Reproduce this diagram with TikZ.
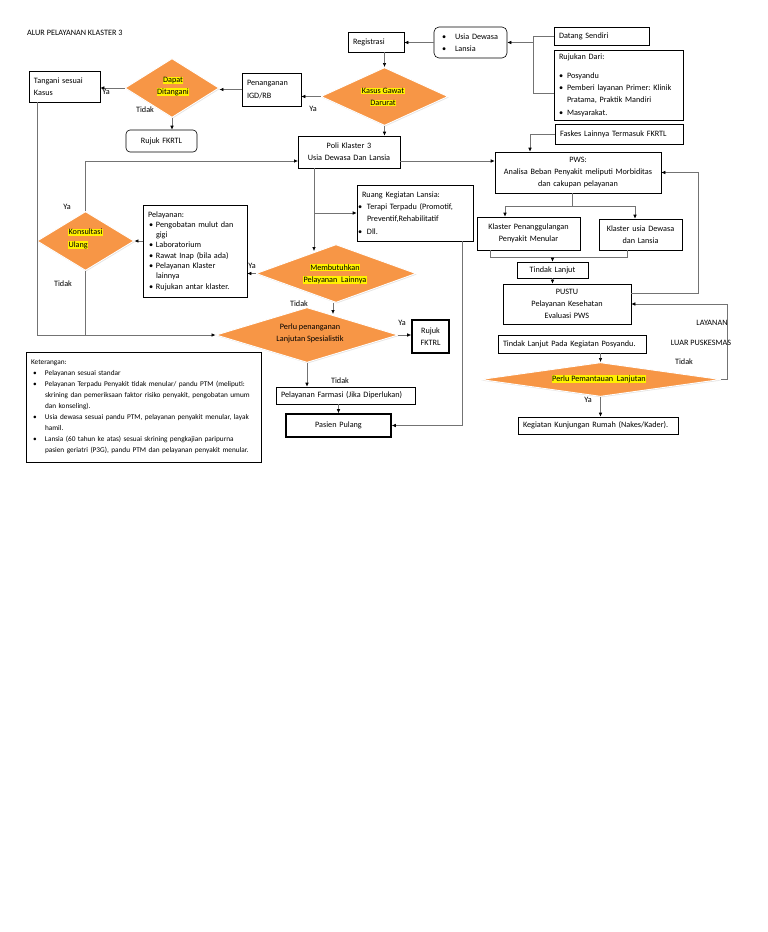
\documentclass[tikz,border=0pt]{standalone}
\usepackage{fontspec}
\setmainfont{Carlito}
\usetikzlibrary{shapes.geometric,arrows.meta,calc,shadows}
\definecolor{dorange}{HTML}{F79646}
\frenchspacing
\newcommand\fs{\fontsize{8.2}{12.3}\selectfont\frenchspacing}
\newcommand\fk{\fontsize{7.3}{11}\selectfont\frenchspacing}
\newcommand\hlt[1]{{\setlength{\fboxsep}{0.5pt}\colorbox{yellow}{#1}}}
\newcommand\bu[1]{\makebox[#1][l]{\textbullet}}
\newcommand\kb{\hspace*{2pt}\makebox[12pt][l]{\textbullet}}
\newcommand\ki{\hspace*{14pt}}
\begin{document}
\begin{tikzpicture}[x=1pt,y=-1pt,
  bx/.style={draw, line width=0.6pt, inner xsep=5pt, inner ysep=1pt, font=\fs, align=left},
  bxc/.style={bx, align=center},
  dm/.style={diamond, fill=dorange, draw=white, line width=0.9pt, inner sep=0pt,
    drop shadow={opacity=0.22, shadow xshift=0.8pt, shadow yshift=-1pt}},
  cn/.style={draw=black!55, line width=0.6pt},
  ar/.style={cn, -{Latex[length=4pt,width=3.5pt,color=black]}},
  lb/.style={font=\fs, inner sep=0pt}]
\fill[white] (0,0) rectangle (768,932);
\useasboundingbox (0,0) rectangle (768,932);

\node[lb, anchor=west] (title) at (27,33) {ALUR PELAYANAN KLASTER 3};

% top / right column
\node[bx, minimum width=56pt, minimum height=20pt, text width=46pt] (reg) at (376,42) {Registrasi};
\node[bx, rounded corners=5pt, minimum width=73pt, minimum height=31pt, text width=63pt] (usia) at (470.5,42.5) {\hspace*{3pt}\bu{13pt}Usia Dewasa\\\hspace*{3pt}\bu{13pt}Lansia};
\node[bx, minimum width=95pt, minimum height=18pt, text width=85pt] (datang) at (601.5,36) {Datang Sendiri};
\node[bx, minimum width=129pt, minimum height=70pt, text width=119pt] (rujukan) at (618.5,85) {Rujukan Dari:\\[7pt]\bu{8pt}Posyandu\\\bu{8pt}Pemberi layanan Primer: Klinik\\\hspace*{8pt}Pratama, Praktik Mandiri\\\bu{8pt}Masyarakat.};
\node[bx, minimum width=128pt, minimum height=20pt, text width=118pt] (faskes) at (619,134) {Faskes Lainnya Termasuk FKRTL};
\node[bxc, minimum width=166pt, minimum height=41pt, text width=156pt] (pws) at (578,172.5) {PWS:\\Analisa Beban Penyakit meliputi Morbiditas\\dan cakupan pelayanan};
\node[bxc, minimum width=103pt, minimum height=33pt, text width=93pt] (kpm) at (528.5,233.5) {Klaster Penanggulangan\\Penyakit Menular};
\node[bxc, minimum width=83pt, minimum height=31pt, text width=73pt] (kud) at (640.5,234.5) {Klaster usia Dewasa\\dan Lansia};
\node[bxc, minimum width=71pt, minimum height=16pt, text width=61pt] (tl) at (552.5,270) {Tindak Lanjut};
\node[bxc, minimum width=128pt, minimum height=40pt, text width=118pt] (pustu) at (567,304) {PUSTU\\Pelayanan Kesehatan\\Evaluasi PWS};
\node[bx, minimum width=148pt, minimum height=18pt, text width=138pt] (tlp) at (572,344) {Tindak Lanjut Pada Kegiatan Posyandu.};
\node[dm, minimum width=240pt, minimum height=34pt] (ppl) at (600.5,379.5) {};
\node[lb] (pplt) at (599,379) {\hlt{Perlu Pemantauan\ \ Lanjutan}};
\node[bx, minimum width=160pt, minimum height=17pt, text width=150pt] (kkr) at (598,425.5) {Kegiatan Kunjungan Rumah (Nakes/Kader).};

% left / middle
\node[bx, minimum width=71pt, minimum height=31pt, text width=61pt] (tangani) at (64.5,86.5) {Tangani sesuai\\Kasus};
\node[dm, minimum width=94pt, minimum height=59pt] (dapat) at (172,88) {};
\node[lb, align=center] (dapatt) at (173,86.5) {\hlt{Dapat}\\\hlt{Ditangani}};
\node[bxc, rounded corners=4pt, minimum width=71pt, minimum height=22pt, text width=61pt] (rfkrtl) at (161.5,141) {Rujuk FKRTL};
\node[bx, minimum width=59pt, minimum height=33pt, text width=49pt] (igd) at (271.5,89.5) {Penanganan\\IGD/RB};
\node[dm, minimum width=127pt, minimum height=58pt] (kgd) at (384.5,96.5) {};
\node[lb, align=center] (kgdt) at (383,97) {\hlt{Kasus Gawat}\\\hlt{Darurat}};
\node[bxc, minimum width=102pt, minimum height=32pt, text width=92pt] (poli) at (349,152) {Poli Klaster 3\\Usia Dewasa Dan Lansia};
\node[bx, minimum width=116pt, minimum height=56pt, text width=106pt] (ruang) at (415,213) {Ruang Kegiatan Lansia:\\\hspace*{-4pt}\bu{9pt}Terapi Terpadu (Promotif,\\\hspace*{5pt}Preventif,Rehabilitatif\\\hspace*{-4pt}\bu{9pt}Dll.};
\node[bx, minimum width=104pt, minimum height=92pt, text width=94pt, font=\fontsize{8.2}{10.3}\selectfont\frenchspacing] (pel) at (195,251) {Pelayanan:\\\hspace*{1pt}\bu{7pt}Pengobatan mulut dan\\\hspace*{8pt}gigi\\\hspace*{1pt}\bu{7pt}Laboratorium\\\hspace*{1pt}\bu{7pt}Rawat Inap (bila ada)\\\hspace*{1pt}\bu{7pt}Pelayanan Klaster\\\hspace*{8pt}lainnya\\\hspace*{1pt}\bu{7pt}Rujukan antar klaster.};
\node[dm, minimum width=97pt, minimum height=59pt] (konsul) at (85.5,241) {};
\node[lb, align=left] (konsult) at (85.5,239) {\hlt{Konsultasi}\\\hlt{Ulang}};
\node[dm, minimum width=160pt, minimum height=58pt] (memb) at (336,273.5) {};
\node[lb, align=center] (membt) at (335,274) {\hlt{Membutuhkan}\\\hlt{Pelayanan\ \ Lainnya}};
\node[dm, minimum width=182pt, minimum height=55pt] (perlu) at (307,335) {};
\node[lb, align=center] (perlut) at (310,333.5) {Perlu penanganan\\Lanjutan Spesialistik};
\node[bxc, line width=1.6pt, inner xsep=2pt, minimum width=37pt, minimum height=33pt, text width=33pt] (rfktrl) at (430.5,336.5) {Rujuk\\FKTRL};
\node[bx, minimum width=139pt, minimum height=17pt, text width=129pt] (farmasi) at (345.5,395.5) {Pelayanan Farmasi (Jika Diperlukan)};
\node[bxc, line width=1.6pt, minimum width=105pt, minimum height=23pt, text width=95pt] (pulang) at (338.5,425.5) {Pasien Pulang};
\node[bx, font=\fk, minimum width=235pt, minimum height=110pt, text width=225pt] (ket) at (143.5,407) {Keterangan:\\
\kb\mbox{Pelayanan sesuai standar}\\
\kb\mbox{Pelayanan Terpadu Penyakit tidak menular/ pandu PTM (meliputi:}\\
\ki\mbox{skrining dan pemeriksaan faktor risiko penyakit, pengobatan umum}\\
\ki\mbox{dan konseling).}\\
\kb\mbox{Usia dewasa sesuai pandu PTM, pelayanan penyakit menular, layak}\\
\ki\mbox{hamil.}\\
\kb\mbox{Lansia (60 tahun ke atas) sesuai skrining pengkajian paripurna}\\
\ki\mbox{pasien geriatri (P3G), pandu PTM dan pelayanan penyakit menular.}};

% connectors top
\draw[ar] (usia.west) -- (usia.west -| reg.east);
\coordinate (bkt) at (533,36);
\coordinate (bkb) at (533,93);
\draw[cn] (datang.west) -- (bkt) -- (bkb) -- (bkb -| rujukan.west);
\draw[ar] (bkt |- usia.east) -- (usia.east);
\draw[ar] (reg.south -| kgd.north) -- (kgd.north);
\draw[ar] (kgd.west) -- (kgd.west -| igd.east);
\draw[ar] (igd.west) -- (igd.west -| dapat.east);
\draw[ar] (dapat.west) -- (dapat.west -| tangani.east);
\draw[ar] (dapat.south) -- (dapat.south |- rfkrtl.north);
\draw[ar] (kgd.south) -- (kgd.south |- poli.north);

% connectors left
\coordinate (jl) at (37,335);
\draw[ar] (tangani.south -| jl) -- (jl) -- (perlu.west);
\draw[cn] (konsul.south) -- (konsul.south |- jl);
\coordinate (pl) at (298,161);
\draw[ar] (konsul.north) |- (pl);
\draw[ar] (pel.west |- konsul.east) -- (konsul.east);
\draw[ar] (pl -| poli.east) -- (pl -| pws.west);
\coordinate (pv) at (314,251);
\draw[ar] (poli.south -| pv) -- (pv);
\draw[ar] (pv |- ruang.west) -- (ruang.west);
\draw[ar] (memb.west) -- (memb.west -| pel.east);
\coordinate (mp) at (333,314);
\draw[ar] (memb.south -| mp) -- (mp);
\draw[ar] (perlu.east) -- (perlu.east -| rfktrl.west);
\draw[ar] (perlu.south) -- (perlu.south |- farmasi.north);
\draw[ar] (farmasi.south -| pulang.north) -- (pulang.north);
\coordinate (rv) at (462,425.5);
\draw[ar] (ruang.south -| rv) -- (rv) -- (pulang.east);

% connectors right
\coordinate (fk) at (530,134);
\draw[ar] (faskes.west) -- (fk) -- (fk |- pws.north);
\coordinate (sp) at (572,206);
\coordinate (sl) at (505,206);
\coordinate (sr) at (635,206);
\draw[cn] (sp |- pws.south) -- (sp);
\draw[cn] (sl) -- (sr);
\draw[ar] (sl) -- (sl |- kpm.north);
\draw[ar] (sr) -- (sr |- kud.north);
\coordinate (bl) at (490,257);
\coordinate (br) at (627,257);
\draw[cn] (bl |- kpm.south) -- (bl) -- (br) -- (br |- kud.south);
\draw[ar] (tl.north |- bl) -- (tl.north);
\draw[ar] (tl.south) -- (tl.south |- pustu.north);
\coordinate (pr) at (698,293);
\draw[ar] (pr -| pustu.east) -- (pr) |- (pws.east);
\draw[ar] (ppl.north |- tlp.south) -- (ppl.north);
\coordinate (qr) at (727,379.5);
\draw[ar] (ppl.east) -- (qr) |- (pustu.east);
\draw[ar] (ppl.south) -- (ppl.south |- kkr.north);

% labels
\node[lb] (l1) at (106,92) {Ya};
\node[lb] (l2) at (145,110) {Tidak};
\node[lb] (l3) at (313,109) {Ya};
\node[lb] (l4) at (67,207) {Ya};
\node[lb] (l5) at (63,284) {Tidak};
\node[lb] (l6) at (252,266) {Ya};
\node[lb] (l7) at (299,304) {Tidak};
\node[lb] (l8) at (402,323) {Ya};
\node[lb] (l9) at (340,381) {Tidak};
\node[lb] (l10) at (712,323) {LAYANAN};
\node[lb] (l11) at (701,343) {LUAR PUSKESMAS};
\node[lb] (l12) at (684,362) {Tidak};
\node[lb] (l13) at (588,400) {Ya};
\end{tikzpicture}
\end{document}
